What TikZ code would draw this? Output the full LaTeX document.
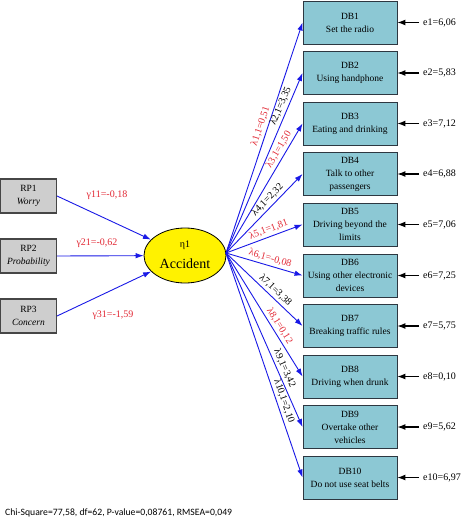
\documentclass[tikz,border=0pt]{standalone}
\usepackage{fontspec}
\setmainfont{Liberation Serif}
\newfontfamily\calibfont{Carlito}
\usetikzlibrary{arrows.meta,shapes.geometric}
\definecolor{dbfill}{RGB}{140,200,212}
\definecolor{dbdraw}{RGB}{45,55,65}
\definecolor{rpfill}{RGB}{206,206,206}
\definecolor{rpdraw}{RGB}{70,70,70}
\definecolor{lblred}{RGB}{226,40,52}
\definecolor{pathblue}{RGB}{25,25,230}
\begin{document}
\begin{tikzpicture}[x=1pt,y=-1pt,
  dbbox/.style={draw=dbdraw, fill=dbfill, line width=0.9pt, minimum width=94pt, minimum height=43pt, inner sep=0pt, align=center, font=\fontsize{9.5}{13}\selectfont},
  rpbox/.style={draw=rpdraw, fill=rpfill, line width=1.1pt, minimum width=56pt, minimum height=34pt, inner sep=0pt, align=center, font=\fontsize{9.5}{13}\selectfont},
  lv/.style={draw=black, fill=yellow, ellipse, line width=0.8pt, minimum width=82pt, minimum height=55pt, inner sep=0pt},
  bpath/.style={draw=pathblue, line width=0.9pt, -{Latex[length=8pt,width=5.5pt]}},
  epath/.style={draw=black, line width=1.1pt, -{Latex[length=8pt,width=6pt]}},
  lamr/.style={sloped, above=1.5pt, inner sep=1pt, text=lblred, font=\fontsize{10}{12}\selectfont},
  lamk/.style={sloped, above=1.5pt, inner sep=1pt, text=black, font=\fontsize{10}{12}\selectfont},
  gam/.style={text=lblred, font=\fontsize{10}{12}\selectfont},
  elab/.style={anchor=west, inner sep=2pt, font=\fontsize{10}{12}\selectfont}
]
\useasboundingbox[fill=white] (0,0) rectangle (474,524);

% exogenous boxes
\node[rpbox] (rp1) at (28.5,196) {RP1\\\textit{Worry}};
\node[rpbox] (rp2) at (28.5,256) {RP2\\\textit{Probability}};
\node[rpbox] (rp3) at (28.5,316) {RP3\\\textit{Concern}};

% latent variable
\node[lv] (acc) at (185,255.5) {};
\node[font=\fontsize{10}{12}\selectfont] (eta) at (185,245) {η1};
\node[font=\fontsize{14}{16}\selectfont] (acct) at (185,264) {Accident};
\coordinate (src) at (226,253);

% indicator boxes
\node[dbbox] (db1) at (350,22.5) {DB1\\Set the radio};
\node[dbbox] (db2) at (350,73) {DB2\\Using handphone};
\node[dbbox] (db3) at (350,123.5) {DB3\\Eating and drinking};
\node[dbbox] (db4) at (350,174) {DB4\\Talk to other\\passengers};
\node[dbbox] (db5) at (350,224.5) {DB5\\Driving beyond the\\limits};
\node[dbbox] (db6) at (350,275.5) {DB6\\Using other electronic\\devices};
\node[dbbox] (db7) at (350,326) {DB7\\Breaking traffic rules};
\node[dbbox] (db8) at (350,376.5) {DB8\\Driving when drunk};
\node[dbbox] (db9) at (350,427) {DB9\\Overtake other\\vehicles};
\node[dbbox] (db10) at (350,477.5) {DB10\\Do not use seat belts};

% structural paths
\draw[bpath] (rp1.east) -- (acc);
\draw[bpath] (rp2.east) -- (acc);
\draw[bpath] (rp3.east) -- (acc);
\node[gam] (g1) at (107,195) {γ11=-0,18};
\node[gam] (g2) at (97,243) {γ21=-0,62};
\node[gam] (g3) at (113,315) {γ31=-1,59};

% measurement paths
\draw[bpath] (src) -- (db1.west) node[lamr, pos=.54] {λ1,1=0,51};
\draw[bpath] (src) -- (db2.west) node[lamk, pos=.80] {λ2,1=3,35};
\draw[bpath] (src) -- (db3.west) node[lamr, pos=.77] {λ3,1=1,50};
\draw[bpath] (src) -- (db4.west) node[lamk, pos=.61] {λ4,1=2,32};
\draw[bpath] (src) -- (db5.west) node[lamr, pos=.59] {λ5,1=1,81};
\draw[bpath] (src) -- (db6.west) node[lamr, pos=.55] {λ6,1=-0,08};
\draw[bpath] (src) -- (db7.west) node[lamk, pos=.58] {λ7,1=3,38};
\draw[bpath] (src) -- (db8.west) node[lamr, pos=.62] {λ8,1=0,12};
\draw[bpath] (src) -- (db9.west) node[lamk, pos=.68] {λ9,1=3,42};
\draw[bpath] (src) -- (db10.west) node[lamk, pos=.67] {λ10,1=2,10};

% error terms
\node[elab] (e1) at (421,22.5) {e1=6,06};
\node[elab] (e2) at (421,73) {e2=5,83};
\node[elab] (e3) at (421,123.5) {e3=7,12};
\node[elab] (e4) at (421,174) {e4=6,88};
\node[elab] (e5) at (421,224.5) {e5=7,06};
\node[elab] (e6) at (421,275.5) {e6=7,25};
\node[elab] (e7) at (421,326) {e7=5,75};
\node[elab] (e8) at (421,376.5) {e8=0,10};
\node[elab] (e9) at (421,427) {e9=5,62};
\node[elab] (e10) at (421,477.5) {e10=6,97};
\foreach \i in {1,...,10}{
  \draw[epath] ([xshift=-2pt]e\i.west) -- (db\i.east);
}

% fit statistics
\node[anchor=west, inner sep=0pt, font=\calibfont\fontsize{9.7}{11}\selectfont] (fit) at (5,513) {Chi-Square=77,58, df=62, P-value=0,08761, RMSEA=0,049};
\end{tikzpicture}
\end{document}
